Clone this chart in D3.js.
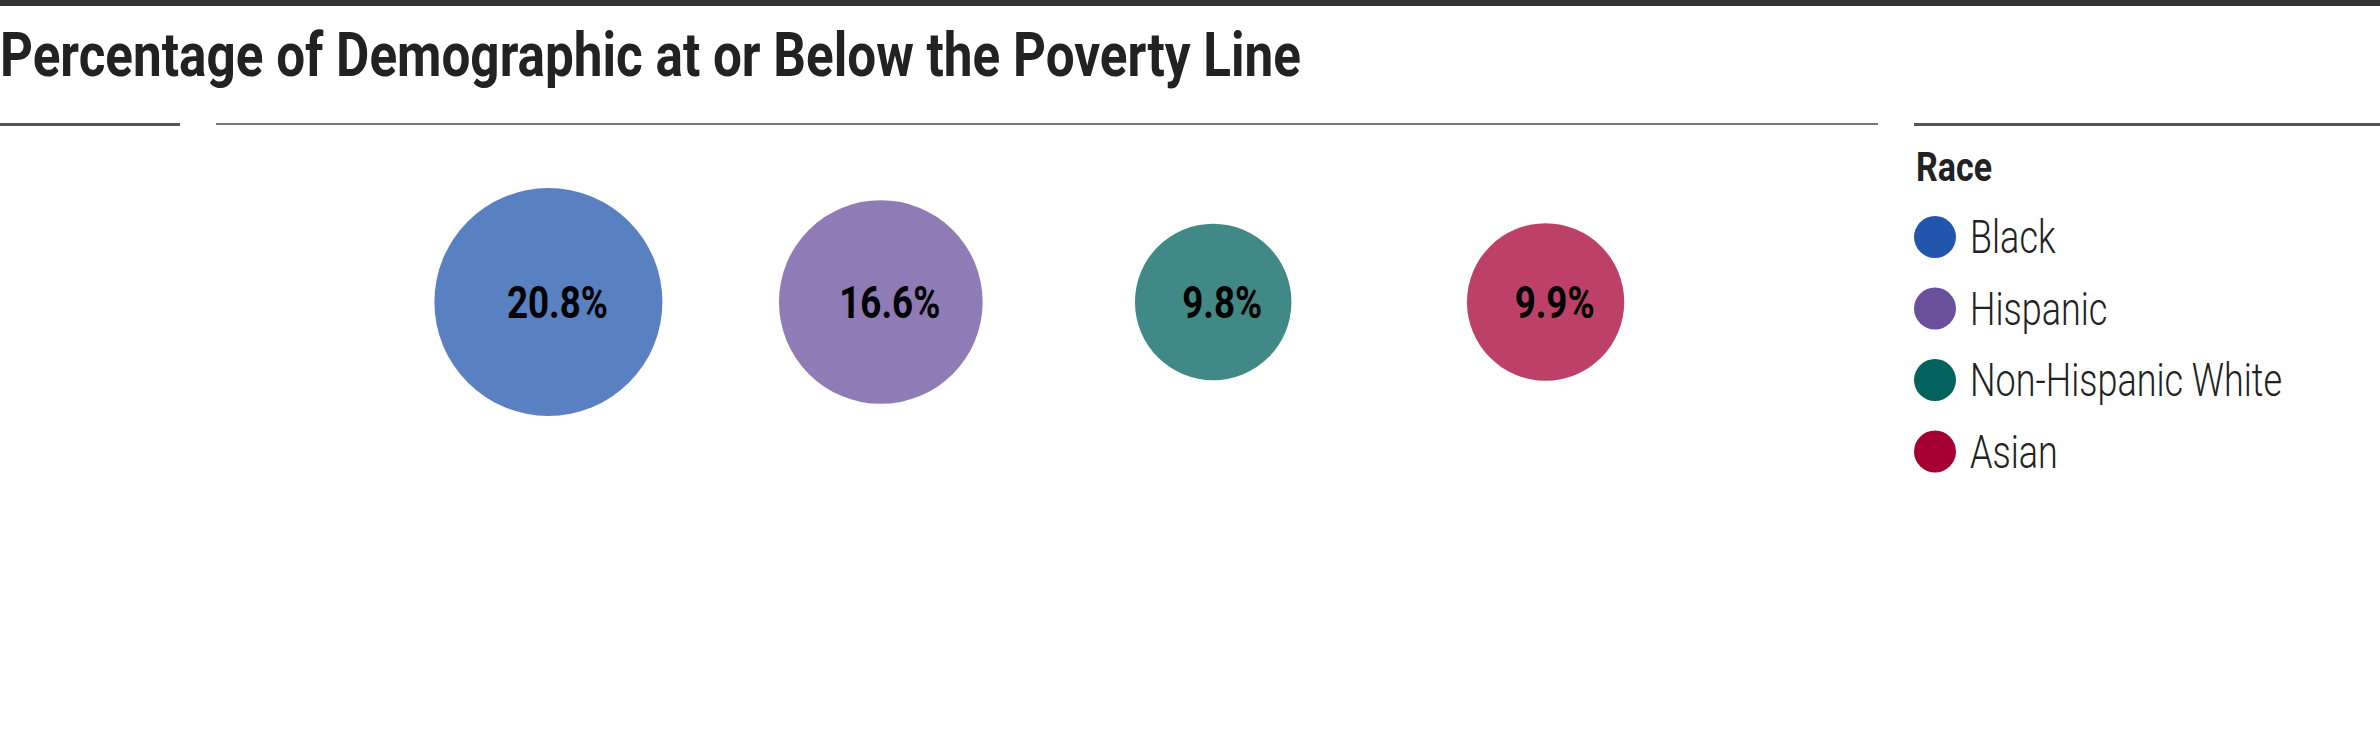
<!DOCTYPE html>
<html>
<head>
<meta charset="utf-8">
<script src="https://cdn.jsdelivr.net/npm/d3@7"></script>
<style>
  html, body { margin: 0; padding: 0; background: #fff; }
  svg { display: block; }
</style>
</head>
<body>
<svg id="chart" width="2380" height="746"></svg>
<script>
// ---- data ----
const categories = ["Black", "Hispanic", "Non-Hispanic White", "Asian"];
const values = [20.8, 16.6, 9.8, 9.9];
const legendColors = ["#2156AC", "#6A4F9C", "#02625E", "#A50034"];
const chartTitle = "Percentage of Demographic at or Below the Poverty Line";
const legendTitle = "Race";

// ---- layout ----
const W = 2380, H = 746;
const plotLeft = 216, plotRight = 1878, cy = 302;
const svg = d3.select("#chart");
const fontBold = "'Liberation Sans Narrow', Roboto, 'Liberation Sans', sans-serif";
const fontLight = "'Liberation Sans Narrow', Roboto, 'Liberation Sans', sans-serif";

function fitWidth(sel, target) {
  sel.attr("textLength", target).attr("lengthAdjust", "spacingAndGlyphs");
}
function condense(sel, factor) {
  sel.each(function () {
    const w = this.getComputedTextLength();
    d3.select(this).attr("textLength", w * factor).attr("lengthAdjust", "spacingAndGlyphs");
  });
}

// top bar
svg.append("rect").attr("x", 0).attr("y", 0).attr("width", W).attr("height", 6).attr("fill", "#333");

// title
const title = svg.append("text")
  .attr("x", 0).attr("y", 76)
  .attr("font-family", fontBold).attr("font-weight", 700)
  .attr("font-size", 62).attr("fill", "#222")
  .text(chartTitle);
fitWidth(title, 1301);

// rules
svg.append("rect").attr("x", 0).attr("y", 123).attr("width", 180).attr("height", 3).attr("fill", "#555");
svg.append("rect").attr("x", plotLeft).attr("y", 123).attr("width", plotRight - plotLeft).attr("height", 2).attr("fill", "#777");
svg.append("rect").attr("x", 1914).attr("y", 123).attr("width", W - 1914).attr("height", 3).attr("fill", "#555");

// scales
const x = d3.scalePoint().domain(categories).range([plotLeft, plotRight]).padding(1);
const r = d3.scaleSqrt().domain([0, d3.max(values)]).range([0, 114]);
const color = d3.scaleOrdinal().domain(categories).range(legendColors);

const data = categories.map((c, i) => ({ cat: c, value: values[i] }));

const g = svg.append("g");
g.selectAll("circle.bubble").data(data).join("circle")
  .attr("class", "bubble")
  .attr("cx", d => x(d.cat))
  .attr("cy", cy)
  .attr("r", d => r(d.value))
  .attr("fill", d => color(d.cat))
  .attr("fill-opacity", 0.75);

const labels = g.selectAll("text.lbl").data(data).join("text")
  .attr("class", "lbl")
  .attr("x", d => x(d.cat) + 9)
  .attr("y", cy + 16)
  .attr("text-anchor", "middle")
  .attr("font-family", fontBold).attr("font-weight", 700)
  .attr("font-size", 45).attr("fill", "#000")
  .text(d => d.value.toFixed(1) + "%");
{
  const w0 = labels.node().getComputedTextLength();
  condense(labels, 101 / w0);
}

// legend
const lg = svg.append("g");
const rt = lg.append("text")
  .attr("x", 1916).attr("y", 181)
  .attr("font-family", fontBold).attr("font-weight", 700)
  .attr("font-size", 41).attr("fill", "#222")
  .text(legendTitle);
fitWidth(rt, 76);

const rows = lg.selectAll("g.row").data(categories).join("g")
  .attr("class", "row")
  .attr("transform", (d, i) => `translate(1935, ${237 + i * 71.5})`);
rows.append("circle").attr("r", 21).attr("fill", d => color(d));
const lt = rows.append("text")
  .attr("x", 35).attr("y", 16)
  .attr("font-family", fontLight).attr("font-weight", 300)
  .attr("font-size", 46).attr("fill", "#222")
  .text(d => d);
{
  const w2 = lt.filter(d => d === "Non-Hispanic White").node().getComputedTextLength();
  condense(lt, 312 / w2);
}
</script>
</body>
</html>
